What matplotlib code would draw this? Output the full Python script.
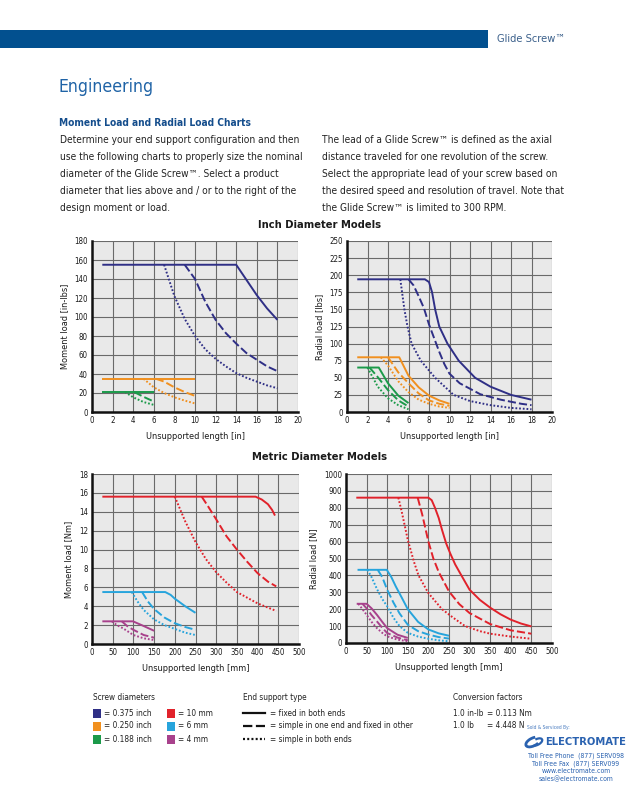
import matplotlib
matplotlib.use("Agg")
import matplotlib.pyplot as plt
from matplotlib import font_manager
from matplotlib.font_manager import FontProperties
from matplotlib.patches import Rectangle, Arc
from matplotlib.lines import Line2D

# ---------- pick a narrow font if one is installed ----------
narrow_path = None
narrow_bold_path = None
for f in font_manager.fontManager.ttflist:
    n = f.name.lower()
    st = str(f.stretch).lower()
    is_narrow = ('narrow' in n or 'condensed' in n or st in ('condensed', 'semi-condensed', 'extra-condensed'))
    if is_narrow and f.style == 'normal':
        w = f.weight if isinstance(f.weight, int) else (700 if 'bold' in str(f.weight) else 400)
        if w >= 600:
            narrow_bold_path = narrow_bold_path or f.fname
        elif w <= 450:
            narrow_path = narrow_path or f.fname
plt.rcParams['font.family'] = ['Roboto', 'DejaVu Sans']


def FP(bold=False):
    if bold and narrow_bold_path:
        return FontProperties(fname=narrow_bold_path)
    if not bold and narrow_path:
        return FontProperties(fname=narrow_path)
    return FontProperties(family=['Roboto', 'DejaVu Sans'], weight='bold' if bold else 'normal')


W, H = 638, 788
NAVY, ORANGE, GREEN = '#2f2f86', '#f1901f', '#1b9a4a'
RED, CYAN, PURPLE = '#e1222b', '#27a4dc', '#a8418c'

# ---------------- data: Moment load, inch models ----------------
mi_navy_fix_x = [1, 14, 15, 16, 17, 18]
mi_navy_fix_y = [155, 155, 139, 123, 109, 97]
mi_navy_sf_x = [9, 10, 11, 12, 13, 14, 15, 16, 17, 18]
mi_navy_sf_y = [155, 140, 116, 97, 83, 72, 62, 55, 48, 43]
mi_navy_ss_x = [7, 8, 9, 10, 11, 12, 13, 14, 15, 16, 17, 18]
mi_navy_ss_y = [155, 122, 98, 80, 66, 56, 48, 41, 36, 32, 28, 25]
mi_orange_fix_x = [1, 10]
mi_orange_fix_y = [35, 35]
mi_orange_sf_x = [6.2, 7, 8, 9, 10]
mi_orange_sf_y = [35, 32, 26, 21, 17]
mi_orange_ss_x = [5, 6, 7, 8, 9, 10]
mi_orange_ss_y = [35, 26, 20, 15.5, 12, 9]
mi_green_fix_x = [1, 6]
mi_green_fix_y = [21, 21]
mi_green_sf_x = [4.1, 5, 6]
mi_green_sf_y = [21, 16, 11]
mi_green_ss_x = [3.2, 4, 5, 6]
mi_green_ss_y = [21, 15.5, 10.5, 7.5]

# ---------------- data: Radial load, inch models ----------------
ri_navy_fix_x = [1, 7.6, 8, 8.3, 8.6, 9, 9.8, 10.9, 12.5, 14, 16, 18]
ri_navy_fix_y = [194, 194, 190, 175, 150, 125, 100, 75, 50, 37, 25, 18]
ri_navy_sf_x = [6, 6.5, 7, 7.5, 8, 8.5, 9, 9.5, 10, 11, 12, 13, 14, 15, 16, 17, 18]
ri_navy_sf_y = [194, 185, 169, 152, 128, 108, 88, 70, 56, 42, 34, 26, 22, 18, 15, 12, 10]
ri_navy_ss_x = [5.2, 5.6, 5.9, 6.3, 7.2, 8.6, 10.4, 12, 14, 16, 18]
ri_navy_ss_y = [194, 150, 125, 100, 75, 50, 25, 16, 10, 6, 4]
ri_orange_fix_x = [1, 5.1, 6, 7, 8, 9, 10]
ri_orange_fix_y = [80, 80, 53, 36, 24, 17, 12]
ri_orange_sf_x = [4, 5, 6, 7, 8, 9, 10]
ri_orange_sf_y = [80, 58, 42, 27, 17, 12, 9]
ri_orange_ss_x = [3.3, 4, 5, 6, 7, 8, 9, 10]
ri_orange_ss_y = [80, 68, 45, 29, 18, 12, 8, 6]
ri_green_fix_x = [1, 3.1, 4, 5, 6]
ri_green_fix_y = [65, 65, 42, 24, 13]
ri_green_sf_x = [2.2, 3, 4, 5, 6]
ri_green_sf_y = [65, 51, 32, 17, 8]
ri_green_ss_x = [2.0, 3, 4, 5, 6]
ri_green_ss_y = [65, 37, 20, 10, 4]

# ---------------- data: Moment load, metric models ----------------
mm_red_fix_x = [25, 395, 410, 425, 435, 442]
mm_red_fix_y = [15.6, 15.6, 15.3, 14.8, 14.2, 13.6]
mm_red_sf_x = [265, 280, 300, 325, 350, 375, 400, 425, 445]
mm_red_sf_y = [15.6, 14.6, 13.2, 11.4, 10.0, 8.7, 7.5, 6.6, 6.1]
mm_red_ss_x = [200, 225, 250, 275, 300, 325, 350, 400, 445]
mm_red_ss_y = [15.6, 13.0, 10.8, 9.0, 7.6, 6.5, 5.5, 4.3, 3.5]
mm_cyan_fix_x = [25, 177, 190, 200, 225, 250]
mm_cyan_fix_y = [5.5, 5.5, 5.2, 4.8, 4.0, 3.3]
mm_cyan_sf_x = [121, 135, 150, 175, 200, 225, 250]
mm_cyan_sf_y = [5.5, 4.5, 3.7, 2.8, 2.2, 1.8, 1.5]
mm_cyan_ss_x = [96, 110, 125, 150, 175, 200, 225, 250]
mm_cyan_ss_y = [5.5, 4.5, 3.6, 2.6, 2.0, 1.6, 1.2, 0.95]
mm_purple_fix_x = [25, 99, 125, 150]
mm_purple_fix_y = [2.4, 2.4, 1.9, 1.4]
mm_purple_sf_x = [72, 85, 100, 125, 150]
mm_purple_sf_y = [2.4, 1.9, 1.5, 0.95, 0.67]
mm_purple_ss_x = [48, 60, 75, 100, 125, 150]
mm_purple_ss_y = [2.4, 2.0, 1.66, 0.95, 0.6, 0.42]

# ---------------- data: Radial load, metric models ----------------
rm_red_fix_x = [25, 200, 208, 216, 225, 233, 243, 253, 265, 277, 300, 325, 350, 375, 400, 425, 450]
rm_red_fix_y = [860, 860, 845, 800, 740, 670, 590, 530, 465, 413, 315, 255, 209, 170, 138, 115, 98]
rm_red_sf_x = [174, 185, 200, 212, 225, 250, 275, 300, 350, 400, 450]
rm_red_sf_y = [860, 760, 600, 500, 420, 305, 230, 177, 112, 75, 55]
rm_red_ss_x = [127, 135, 150, 165, 176, 200, 233, 260, 289, 325, 350, 400, 450]
rm_red_ss_y = [860, 780, 610, 480, 400, 295, 200, 150, 100, 70, 55, 38, 25]
rm_cyan_fix_x = [28, 99, 110, 121, 135, 150, 175, 200, 225, 250]
rm_cyan_fix_y = [433, 433, 390, 334, 270, 200, 125, 80, 57, 43]
rm_cyan_sf_x = [77, 88, 100, 115, 130, 150, 175, 200, 225, 250]
rm_cyan_sf_y = [433, 390, 315, 240, 175, 108, 70, 50, 35, 26]
rm_cyan_ss_x = [52, 62, 75, 88, 100, 115, 130, 150, 175, 200, 225, 250]
rm_cyan_ss_y = [433, 390, 320, 260, 217, 150, 100, 60, 38, 25, 16, 10]
rm_purple_fix_x = [26, 50, 62, 75, 88, 100, 125, 150]
rm_purple_fix_y = [232, 232, 205, 167, 125, 88, 49, 30]
rm_purple_sf_x = [40, 50, 62, 75, 88, 100, 125, 150]
rm_purple_sf_y = [232, 205, 165, 128, 90, 59, 32, 16]
rm_purple_ss_x = [30, 40, 50, 62, 75, 88, 100, 125, 150]
rm_purple_ss_y = [232, 200, 167, 125, 88, 60, 39, 20, 10]

in_ticks_x = [0, 2, 4, 6, 8, 10, 12, 14, 16, 18, 20]
mm_ticks_x = [0, 50, 100, 150, 200, 250, 300, 350, 400, 450, 500]
mi_ticks_y = [0, 20, 40, 60, 80, 100, 120, 140, 160, 180]
ri_ticks_y = [0, 25, 50, 75, 100, 125, 150, 175, 200, 225, 250]
mm_ticks_y = [0, 2, 4, 6, 8, 10, 12, 14, 16, 18]
rm_ticks_y = [0, 100, 200, 300, 400, 500, 600, 700, 800, 900, 1000]

fig = plt.figure(figsize=(W / 100, H / 100), dpi=100)
fig.patch.set_facecolor('white')
REND = fig.canvas.get_renderer()


def T(x, y, s, size=7, bold=False, **kw):
    kw.setdefault('va', 'center')
    kw.setdefault('ha', 'left')
    fp = FP(bold)
    fp.set_size(size)
    return fig.text(x / W, 1 - y / H, s, fontproperties=fp, **kw)


def fit_size(s, target, bold=False, start=8.0):
    t = fig.text(0, 0, s, fontproperties=FP(bold))
    size = start
    for _ in range(4):
        t.set_fontsize(size)
        w = t.get_window_extent(REND).width
        size = size * target / w
    t.remove()
    return size


def make_ax(l, t, r, b):
    return fig.add_axes([l / W, 1 - b / H, (r - l) / W, (b - t) / H])


STY = {'fix': dict(linestyle='-'),
       'sf': dict(linestyle=(0, (4.2, 1.6))),
       'ss': dict(linestyle=(0, (0.9, 1.0)))}

TICK_FS = fit_size('1000', 18)
LAB_FS = fit_size('Unsupported length [in]', 99)


def draw(ax, series, xt, yt, xlabel, ylabel):
    ax.set_facecolor('#e9e9e9')
    ax.set_xlim(xt[0], xt[-1])
    ax.set_ylim(yt[0], yt[-1])
    ax.set_xticks(xt)
    ax.set_yticks(yt)
    ax.grid(True, color='#6a6a6a', lw=0.8)
    ax.set_axisbelow(True)
    for s in ['top', 'right']:
        ax.spines[s].set_visible(False)
    for s in ['left', 'bottom']:
        ax.spines[s].set_linewidth(1.8)
        ax.spines[s].set_color('#111111')
    ax.tick_params(length=0, pad=3, colors='#1a1a1a')
    for lab in ax.get_xticklabels() + ax.get_yticklabels():
        fp = FP(False)
        fp.set_size(TICK_FS)
        lab.set_fontproperties(fp)
    for x, y, c, st in series:
        ax.plot(x, y, color=c, lw=1.4, solid_capstyle='butt', dash_capstyle='butt', clip_on=False, **STY[st])
    fp = FP(False)
    fp.set_size(LAB_FS)
    ax.set_xlabel(xlabel, fontproperties=fp, labelpad=5, color='#1a1a1a')
    ax.set_ylabel(ylabel, fontproperties=fp, labelpad=4, color='#1a1a1a')


ax1 = make_ax(92, 241, 298, 412)
draw(ax1, [(mi_navy_fix_x, mi_navy_fix_y, NAVY, 'fix'), (mi_navy_sf_x, mi_navy_sf_y, NAVY, 'sf'),
           (mi_navy_ss_x, mi_navy_ss_y, NAVY, 'ss'),
           (mi_orange_fix_x, mi_orange_fix_y, ORANGE, 'fix'), (mi_orange_sf_x, mi_orange_sf_y, ORANGE, 'sf'),
           (mi_orange_ss_x, mi_orange_ss_y, ORANGE, 'ss'),
           (mi_green_fix_x, mi_green_fix_y, GREEN, 'fix'), (mi_green_sf_x, mi_green_sf_y, GREEN, 'sf'),
           (mi_green_ss_x, mi_green_ss_y, GREEN, 'ss')],
     in_ticks_x, mi_ticks_y, 'Unsupported length [in]', 'Moment load [in-lbs]')

ax2 = make_ax(347, 241, 552, 412)
draw(ax2, [(ri_navy_fix_x, ri_navy_fix_y, NAVY, 'fix'), (ri_navy_sf_x, ri_navy_sf_y, NAVY, 'sf'),
           (ri_navy_ss_x, ri_navy_ss_y, NAVY, 'ss'),
           (ri_orange_fix_x, ri_orange_fix_y, ORANGE, 'fix'), (ri_orange_sf_x, ri_orange_sf_y, ORANGE, 'sf'),
           (ri_orange_ss_x, ri_orange_ss_y, ORANGE, 'ss'),
           (ri_green_fix_x, ri_green_fix_y, GREEN, 'fix'), (ri_green_sf_x, ri_green_sf_y, GREEN, 'sf'),
           (ri_green_ss_x, ri_green_ss_y, GREEN, 'ss')],
     in_ticks_x, ri_ticks_y, 'Unsupported length [in]', 'Radial load [lbs]')

ax3 = make_ax(92, 474, 299, 644)
draw(ax3, [(mm_red_fix_x, mm_red_fix_y, RED, 'fix'), (mm_red_sf_x, mm_red_sf_y, RED, 'sf'),
           (mm_red_ss_x, mm_red_ss_y, RED, 'ss'),
           (mm_cyan_fix_x, mm_cyan_fix_y, CYAN, 'fix'), (mm_cyan_sf_x, mm_cyan_sf_y, CYAN, 'sf'),
           (mm_cyan_ss_x, mm_cyan_ss_y, CYAN, 'ss'),
           (mm_purple_fix_x, mm_purple_fix_y, PURPLE, 'fix'), (mm_purple_sf_x, mm_purple_sf_y, PURPLE, 'sf'),
           (mm_purple_ss_x, mm_purple_ss_y, PURPLE, 'ss')],
     mm_ticks_x, mm_ticks_y, 'Unsupported length [mm]', 'Moment load [Nm]')

ax4 = make_ax(346, 474, 552, 643)
draw(ax4, [(rm_red_fix_x, rm_red_fix_y, RED, 'fix'), (rm_red_sf_x, rm_red_sf_y, RED, 'sf'),
           (rm_red_ss_x, rm_red_ss_y, RED, 'ss'),
           (rm_cyan_fix_x, rm_cyan_fix_y, CYAN, 'fix'), (rm_cyan_sf_x, rm_cyan_sf_y, CYAN, 'sf'),
           (rm_cyan_ss_x, rm_cyan_ss_y, CYAN, 'ss'),
           (rm_purple_fix_x, rm_purple_fix_y, PURPLE, 'fix'), (rm_purple_sf_x, rm_purple_sf_y, PURPLE, 'sf'),
           (rm_purple_ss_x, rm_purple_ss_y, PURPLE, 'ss')],
     mm_ticks_x, rm_ticks_y, 'Unsupported length [mm]', 'Radial load [N]')

# ---------------- page header and text ----------------
fig.patches.append(Rectangle((0, 1 - 48 / H), 488 / W, 18 / H, transform=fig.transFigure,
                             facecolor='#02508f', edgecolor='none'))
T(497, 39, 'Glide Screw\u2122', size=fit_size('Glide Screw\u2122', 68), color='#3a5f8a')
T(59, 87, 'Engineering', size=fit_size('Engineering', 96), color='#1f63a6')
T(59, 123, 'Moment Load and Radial Load Charts', size=fit_size('Moment Load and Radial Load Charts', 192, bold=True),
  bold=True, color='#144d8c')

left_lines = ['Determine your end support configuration and then',
              'use the following charts to properly size the nominal',
              'diameter of the Glide Screw\u2122. Select a product',
              'diameter that lies above and / or to the right of the',
              'design moment or load.']
right_lines = ['The lead of a Glide Screw\u2122 is defined as the axial',
               'distance traveled for one revolution of the screw.',
               'Select the appropriate lead of your screw based on',
               'the desired speed and resolution of travel. Note that',
               'the Glide Screw\u2122 is limited to 300 RPM.']
BODY_FS = 1.04 * 0.5 * (fit_size(left_lines[0], 231) + fit_size(right_lines[0], 216))
for i, (a, b) in enumerate(zip(left_lines, right_lines)):
    T(60, 140 + 17 * i, a, size=BODY_FS, color='#222222')
    T(322, 140 + 17 * i, b, size=BODY_FS, color='#222222')

TITLE_FS = fit_size('Inch Diameter Models', 124, bold=True)
T(320, 225, 'Inch Diameter Models', size=TITLE_FS, bold=True, ha='center', color='#1a1a1a')
T(320, 457, 'Metric Diameter Models', size=TITLE_FS, bold=True, ha='center', color='#1a1a1a')

# ---------------- legend ----------------
diam_labels = ['= 0.375 inch', '= 0.250 inch', '= 0.188 inch']
metric_labels = ['= 10 mm', '= 6 mm', '= 4 mm']
end_labels = ['= fixed in both ends', '= simple in one end and fixed in other', '= simple in both ends']
conv_left = ['1.0 in-lb', '1.0 lb']
conv_right = ['= 0.113 Nm', '= 4.448 N']

LEG_FS = 1.03 * fit_size(end_labels[1], 140)
T(93, 697, 'Screw diameters', size=LEG_FS, color='#222222')
T(243, 697, 'End support type', size=LEG_FS, color='#222222')
T(453, 697, 'Conversion factors', size=LEG_FS, color='#222222')
rows = [713, 726, 739]
for i, y in enumerate(rows):
    for x0, col, lab in [(93, [NAVY, ORANGE, GREEN][i], diam_labels[i]),
                         (167, [RED, CYAN, PURPLE][i], metric_labels[i])]:
        fig.patches.append(Rectangle((x0 / W, 1 - (y + 4.5) / H), 8 / W, 9 / H, transform=fig.transFigure,
                                     facecolor=col, edgecolor='none'))
        T(x0 + 11, y, lab, size=LEG_FS, color='#222222')
    fig.lines.append(Line2D([243 / W, 265 / W], [1 - y / H, 1 - y / H], transform=fig.transFigure,
                            color='#111111', lw=1.6, **STY[['fix', 'sf', 'ss'][i]]))
    T(270, y, end_labels[i], size=LEG_FS, color='#222222')
for i, y in enumerate(rows[:2]):
    T(453, y, conv_left[i], size=LEG_FS, color='#222222')
    T(487, y, conv_right[i], size=LEG_FS, color='#222222')

LOGO = '#2a62b0'
T(527, 728, 'Sold & Serviced By:', size=fit_size('Sold & Serviced By:', 42), color='#4a7cc0')
T(545, 742, 'ELECTROMATE', size=fit_size('ELECTROMATE', 82, bold=True), bold=True, color=LOGO)
fig.patches.append(Arc((533 / W, 1 - 742 / H), 15 / W, 8 / H, angle=20, theta1=40, theta2=330,
                       transform=fig.transFigure, color=LOGO, lw=2.0))
fig.patches.append(Arc((537 / W, 1 - 742 / H), 11 / W, 6 / H, angle=20, theta1=200, theta2=470,
                       transform=fig.transFigure, color=LOGO, lw=1.6))
CONTACT_FS = fit_size('Toll Free Phone  (877) SERV098', 96)
for i, s in enumerate(['Toll Free Phone  (877) SERV098', 'Toll Free Fax  (877) SERV099',
                       'www.electromate.com', 'sales@electromate.com']):
    T(576, 756 + 7.7 * i, s, size=CONTACT_FS, color=LOGO, ha='center')

fig.savefig('out.png', dpi=100, facecolor='white')
